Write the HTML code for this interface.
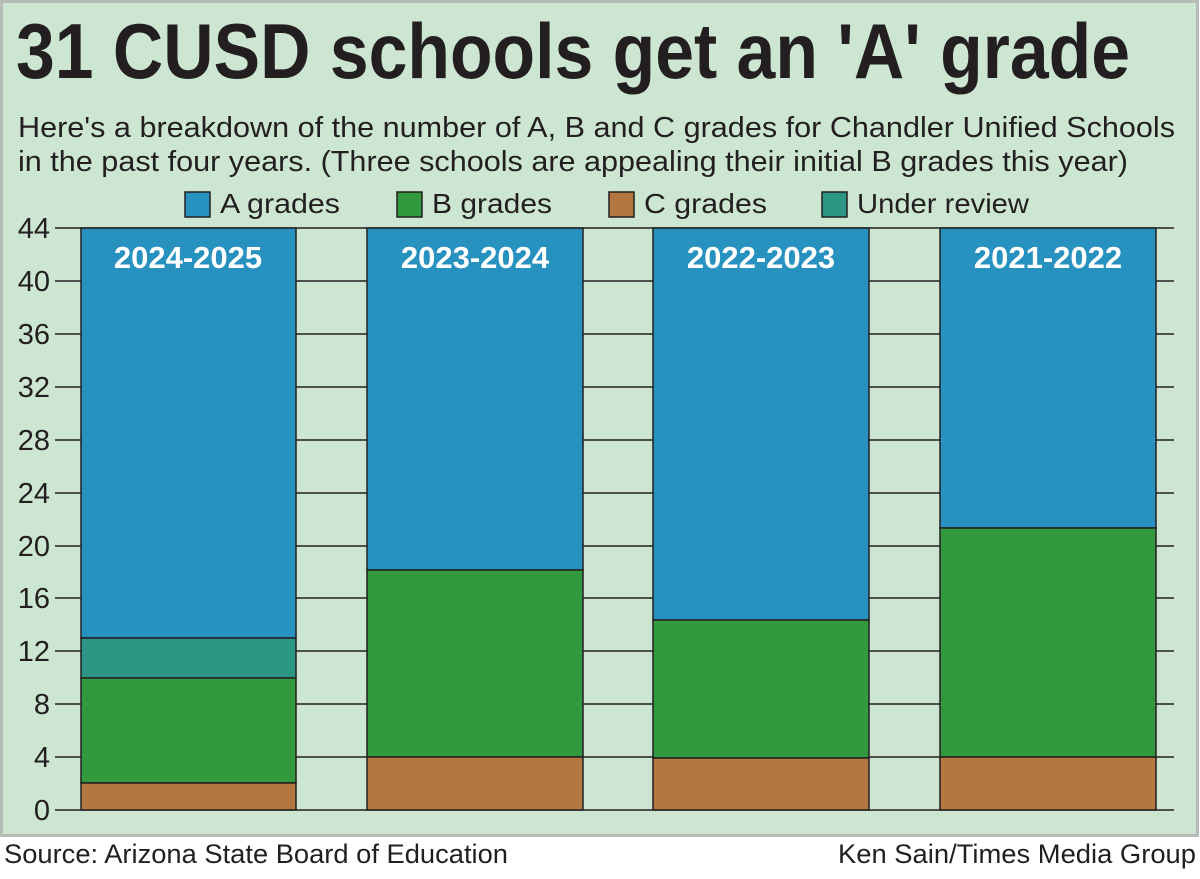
<!DOCTYPE html>
<html><head><style>html,body{margin:0;padding:0;background:#fff}svg{display:block}</style></head>
<body>
<svg width="1200" height="879" viewBox="0 0 1200 879" xmlns="http://www.w3.org/2000/svg" font-family="Liberation Sans, sans-serif">
<rect x="1.5" y="1.5" width="1196" height="834" fill="#cde6d2" stroke="#b8bcb8" stroke-width="3"/>
<text x="16" y="78" font-size="78" font-weight="bold" fill="#231f20" textLength="1114" lengthAdjust="spacingAndGlyphs">31 CUSD schools get an 'A' grade</text>
<text x="18" y="137" font-size="29" fill="#231f20" textLength="1157" lengthAdjust="spacingAndGlyphs">Here's a breakdown of the number of A, B and C grades for Chandler Unified Schools</text>
<text x="18" y="171" font-size="29" fill="#231f20" textLength="1110" lengthAdjust="spacingAndGlyphs">in the past four years. (Three schools are appealing their initial B grades this year)</text>
<g font-size="28" fill="#231f20">
<rect x="185" y="192" width="25" height="25" fill="#2791c0" stroke="#231f20" stroke-width="1.5"/><text x="220" y="213" textLength="120" lengthAdjust="spacingAndGlyphs">A grades</text>
<rect x="397" y="192" width="25" height="25" fill="#33993f" stroke="#231f20" stroke-width="1.5"/><text x="432" y="213" textLength="120" lengthAdjust="spacingAndGlyphs">B grades</text>
<rect x="609" y="192" width="25" height="25" fill="#b4773f" stroke="#231f20" stroke-width="1.5"/><text x="644" y="213" textLength="123" lengthAdjust="spacingAndGlyphs">C grades</text>
<rect x="822" y="192" width="25" height="25" fill="#2a9683" stroke="#231f20" stroke-width="1.5"/><text x="857" y="213" textLength="172" lengthAdjust="spacingAndGlyphs">Under review</text>
</g>
<g stroke="#231f20" stroke-width="1.5">
<line x1="55" y1="228" x2="1174" y2="228"/><line x1="55" y1="281" x2="1174" y2="281"/><line x1="55" y1="334" x2="1174" y2="334"/><line x1="55" y1="387" x2="1174" y2="387"/><line x1="55" y1="440" x2="1174" y2="440"/><line x1="55" y1="493" x2="1174" y2="493"/><line x1="55" y1="546" x2="1174" y2="546"/><line x1="55" y1="598" x2="1174" y2="598"/><line x1="55" y1="651" x2="1174" y2="651"/><line x1="55" y1="704" x2="1174" y2="704"/><line x1="55" y1="757" x2="1174" y2="757"/><line x1="55" y1="810" x2="1174" y2="810"/>
</g>
<g font-size="29" fill="#231f20" text-anchor="end">
<text x="50" y="238">44</text><text x="50" y="291">40</text><text x="50" y="344">36</text><text x="50" y="397">32</text><text x="50" y="450">28</text><text x="50" y="503">24</text><text x="50" y="556">20</text><text x="50" y="608">16</text><text x="50" y="661">12</text><text x="50" y="714">8</text><text x="50" y="767">4</text><text x="50" y="820">0</text>
</g>
<g stroke="#231f20" stroke-width="1.5">
<rect x="81" y="228" width="215" height="410" fill="#2791c0"/>
<rect x="81" y="638" width="215" height="40" fill="#2a9683"/>
<rect x="81" y="678" width="215" height="105" fill="#33993f"/>
<rect x="81" y="783" width="215" height="27" fill="#b4773f"/>
<rect x="367" y="228" width="216" height="342" fill="#2791c0"/>
<rect x="367" y="570" width="216" height="187" fill="#33993f"/>
<rect x="367" y="757" width="216" height="53" fill="#b4773f"/>
<rect x="653" y="228" width="216" height="392" fill="#2791c0"/>
<rect x="653" y="620" width="216" height="138" fill="#33993f"/>
<rect x="653" y="758" width="216" height="52" fill="#b4773f"/>
<rect x="940" y="228" width="216" height="300" fill="#2791c0"/>
<rect x="940" y="528" width="216" height="229" fill="#33993f"/>
<rect x="940" y="757" width="216" height="53" fill="#b4773f"/>
</g>
<g font-size="31" font-weight="bold" fill="#fff" text-anchor="middle">
<text x="188" y="268">2024-2025</text><text x="475" y="268">2023-2024</text><text x="761" y="268">2022-2023</text><text x="1048" y="268">2021-2022</text>
</g>
<text x="4" y="863" font-size="27" fill="#231f20" textLength="504" lengthAdjust="spacingAndGlyphs">Source: Arizona State Board of Education</text>
<text x="838" y="863" font-size="27" fill="#231f20" textLength="358" lengthAdjust="spacingAndGlyphs">Ken Sain/Times Media Group</text>
</svg>
</body></html>
